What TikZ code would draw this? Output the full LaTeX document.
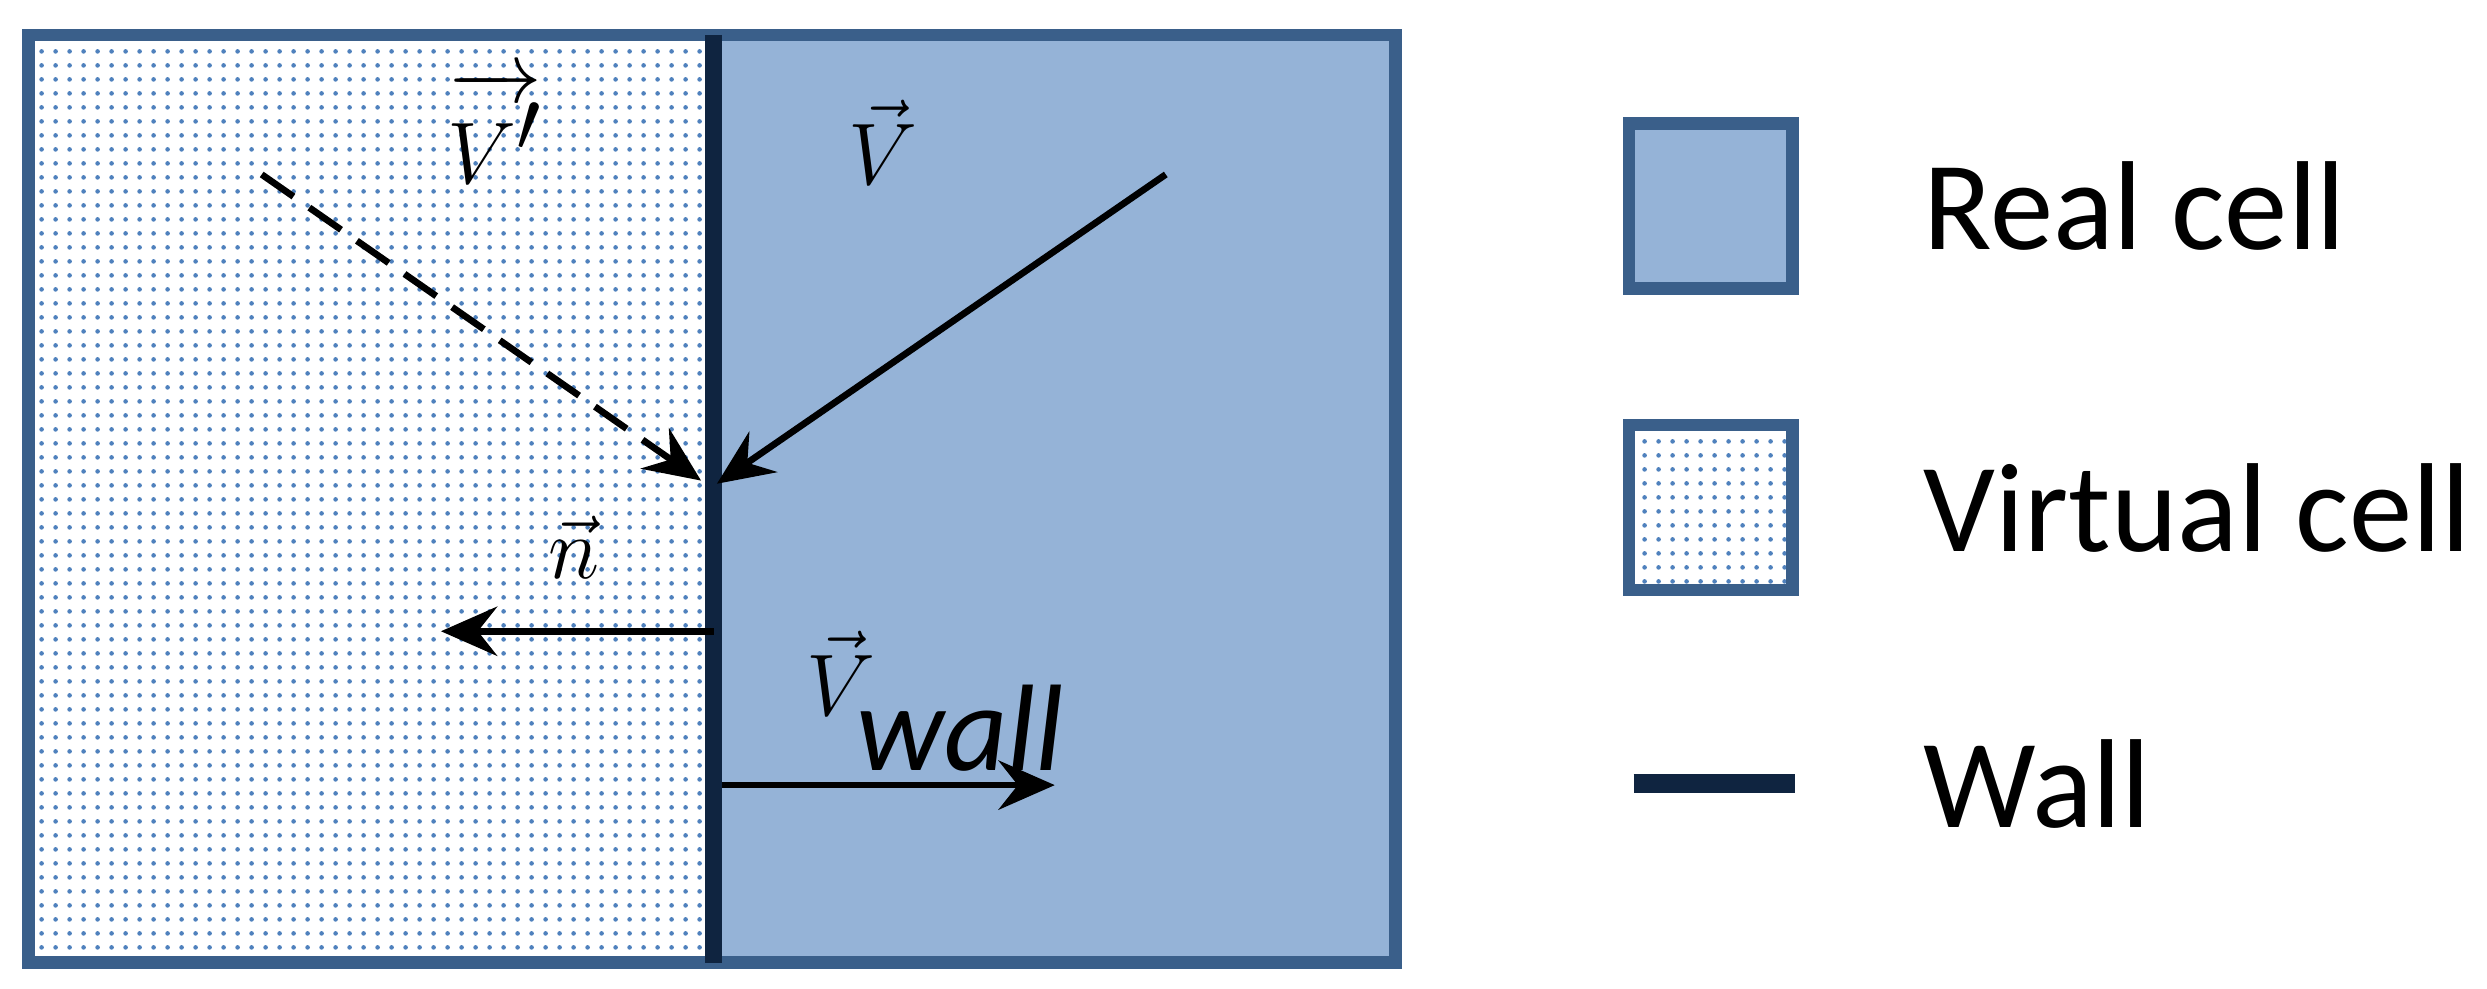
\documentclass[tikz,border=0pt]{standalone}
\usepackage{fontspec}
\setmainfont{Carlito}
\usepackage{amsmath}
\usetikzlibrary{arrows.meta,patterns.meta}
\definecolor{edge}{HTML}{3A5F8A}
\definecolor{realc}{HTML}{95B3D7}
\definecolor{wallc}{HTML}{0F2440}
\definecolor{dotc}{HTML}{4F81BD}
\tikzset{
 virt/.style={pattern={Dots[radius=0.7pt,distance=4pt]},pattern color=dotc},
 boxedge/.style={draw=edge,line width=3.6pt},
 vec/.style={line width=1.9pt,-{Stealth[length=16pt,width=14pt,inset=5.5pt]}},
 lab/.style={font=\fontsize{36}{42}\selectfont,anchor=west},
 mlab/.style={font=\fontsize{50}{56}\selectfont}
}
\begin{document}
\begin{tikzpicture}[x=0.01586cm,y=-0.01586cm]
\useasboundingbox (0,0) rectangle (1568,623);
% main cell
\fill[white] (18,22) rectangle (450,607);
\fill[virt] (18,22) rectangle (450,607);
\fill[realc] (450,22) rectangle (880,607);
\draw[boxedge] (18,22) rectangle (880,607);
\draw[wallc,line width=4.8pt] (450,22) -- (450,607);
% arrows
\coordinate (vs) at (735,110);
\coordinate (hit) at (452,305);
\coordinate (ds) at (165,110);
\coordinate (dhit) at (442,303);
\coordinate (ns) at (450,398);
\coordinate (ne) at (278,398);
\coordinate (ws) at (455,495);
\coordinate (we) at (665,495);
\draw[vec] (vs) -- (hit);
\draw[vec,dash pattern=on 11pt off 5.5pt] (ds) -- (dhit);
\draw[vec] (ns) -- (ne);
\draw[vec] (ws) -- (we);
\node[mlab] (lvp) at (312,80) {$\overrightarrow{V'}$};
\node[mlab] (lv) at (557,90) {$\vec{V}$};
\node[mlab] (ln) at (362,345) {$\vec{n}$};
\node[mlab] (lw) at (590,442) {$\vec{V}_{\mathit{wall}}$};
% legend
\draw[boxedge,fill=realc] (1027,78) rectangle (1130,182);
\fill[white] (1027,268) rectangle (1130,372);
\fill[virt] (1027,268) rectangle (1130,372);
\draw[boxedge] (1027,268) rectangle (1130,372);
\draw[wallc,line width=5.4pt] (1030,494) -- (1132,494);
\node[lab] (t1) at (1205,130) {Real cell};
\node[lab] (t2) at (1205,320) {Virtual cell};
\node[lab] (t3) at (1205,494) {Wall};
\end{tikzpicture}
\end{document}
